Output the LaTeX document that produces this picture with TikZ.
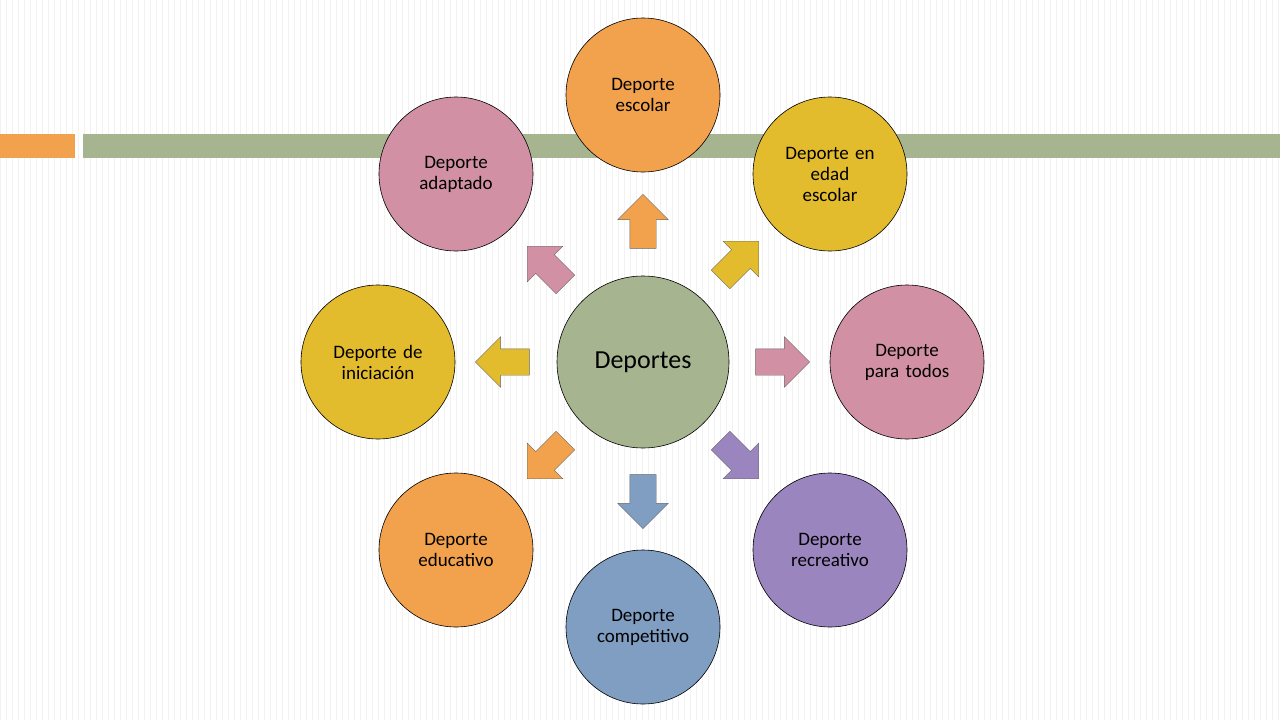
\documentclass[tikz,border=0pt]{standalone}
\usepackage{fontspec}
\setmainfont{Carlito}
\usetikzlibrary{shapes.arrows}
\definecolor{cor}{HTML}{F2A24C}
\definecolor{cye}{HTML}{E3BC2E}
\definecolor{cpi}{HTML}{D190A4}
\definecolor{cgr}{HTML}{A6B490}
\definecolor{cbl}{HTML}{809DC2}
\definecolor{cpu}{HTML}{9B85BF}
\begin{document}
\begin{tikzpicture}[x=1pt,y=-1pt,
  circ/.style={circle,draw=black,line width=0.6pt,minimum size=154pt,inner sep=0pt,align=center,font=\fontsize{19}{21}\selectfont,text width=120pt},
  arr/.style={single arrow,draw=black!60,line width=0.4pt,single arrow head extend=12pt,single arrow tip angle=90,minimum height=54pt,inner sep=13pt}]
\useasboundingbox (0,0) rectangle (1280,720);
\fill[white] (0,0) rectangle (1280,720);
\foreach \i in {0,6,...,1278} \draw[black!5,line width=0.5pt] (\i,0) -- (\i,720);
\fill[cor] (0,134) rectangle (75,158);
\fill[cgr] (83,134) rectangle (1280,158);
\node[circ,minimum size=172pt,font=\fontsize{26}{28}\selectfont,fill=cgr] (c) at (643,362) {Deportes};
\node[circ,fill=cor] (n1) at (643,95) {Deporte\\escolar};
\node[circ,fill=cye] (n2) at (830,174) {Deporte en\\edad\\escolar};
\node[circ,fill=cpi] (n3) at (907,362) {Deporte\\para todos};
\node[circ,fill=cpu] (n4) at (830,550) {Deporte\\recreativo};
\node[circ,fill=cbl] (n5) at (643,627) {Deporte\\competitivo};
\node[circ,fill=cor] (n6) at (456,550) {Deporte\\educativo};
\node[circ,fill=cye] (n7) at (378,362) {Deporte de\\iniciación};
\node[circ,fill=cpi] (n8) at (456,174) {Deporte\\adaptado};
\node[arr,fill=cor,rotate=90] (a1) at (643,228) {};
\node[arr,fill=cye,rotate=45] (a2) at (735,265) {};
\node[arr,fill=cpi,rotate=0] (a3) at (776,362) {};
\node[arr,fill=cpu,rotate=-45] (a4) at (735,455) {};
\node[arr,fill=cbl,rotate=-90] (a5) at (643,495) {};
\node[arr,fill=cor,rotate=-135] (a6) at (551,455) {};
\node[arr,fill=cye,rotate=180] (a7) at (509,362) {};
\node[arr,fill=cpi,rotate=135] (a8) at (551,270) {};
\end{tikzpicture}
\end{document}
